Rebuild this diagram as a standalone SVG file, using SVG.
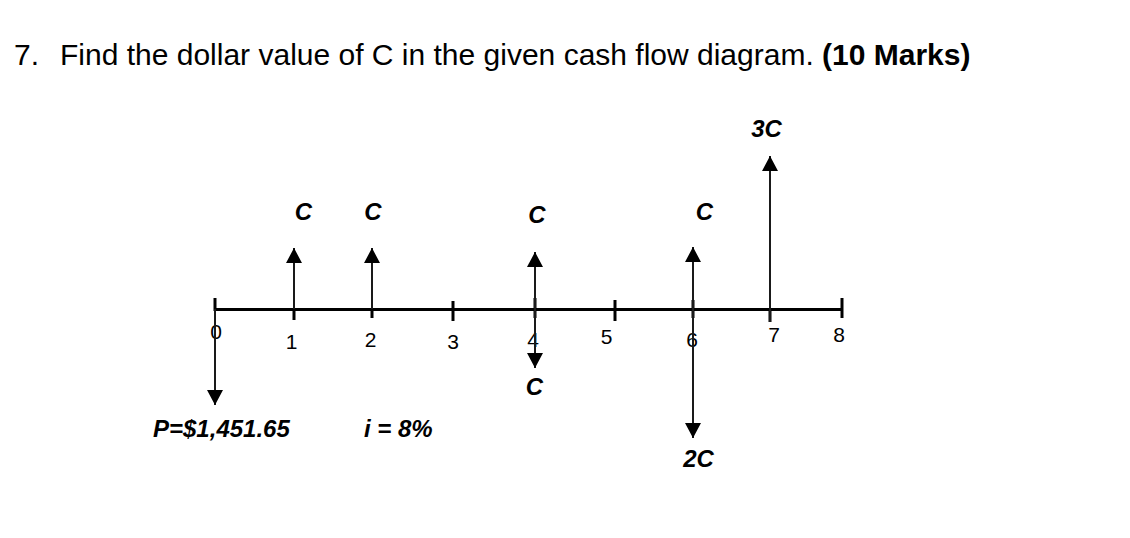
<svg xmlns="http://www.w3.org/2000/svg" width="1130" height="538" viewBox="0 0 1130 538">
<style>
.title{font-family:"Liberation Sans",Arial,sans-serif;font-size:30px;fill:#000}
.lbl{font-family:"Liberation Sans",Arial,sans-serif;font-size:24px;font-weight:bold;font-style:italic;fill:#000}
.num{font-family:"Liberation Sans",Arial,sans-serif;font-size:21px;fill:#000;text-anchor:middle}
.axis{stroke:#000;stroke-width:3;fill:none}
.tick{stroke:#000;stroke-width:3}
.flow{stroke:#1a1a1a;stroke-width:2;fill:none;marker-end:url(#ah)}
</style>
<defs>
<marker id="ah" markerUnits="userSpaceOnUse" markerWidth="15" markerHeight="16" viewBox="0 -8 15 16" refX="15" refY="0" orient="auto">
<path d="M0,-8 L15,0 L0,8 Z" fill="#000"/>
</marker>
</defs>
<rect width="1130" height="538" fill="#fff"/>
<g id="title">
<text class="title" x="14" y="65">7.</text>
<text class="title" x="60" y="65">Find the dollar value of C in the given cash flow diagram. <tspan font-weight="bold">(10 Marks)</tspan></text>
</g>
<g id="timeline">
<line class="axis" x1="215" y1="309.5" x2="842" y2="309.5"/>
<line class="tick" x1="215" y1="298" x2="215" y2="311"/>
<line class="tick" x1="294" y1="308" x2="294" y2="320"/>
<line class="tick" x1="372" y1="308" x2="372" y2="318"/>
<line class="tick" x1="453" y1="301" x2="453" y2="321"/>
<line class="tick" x1="535" y1="298" x2="535" y2="318"/>
<line class="tick" x1="615" y1="300" x2="615" y2="321"/>
<line class="tick" x1="693" y1="300" x2="693" y2="318"/>
<line class="tick" x1="770" y1="308" x2="770" y2="322"/>
<line class="tick" x1="842" y1="298" x2="842" y2="318"/>
<text class="num" x="216" y="339">0</text>
<text class="num" x="291.5" y="349">1</text>
<text class="num" x="370.5" y="347">2</text>
<text class="num" x="453" y="349">3</text>
<text class="num" x="533" y="347">4</text>
<text class="num" x="606.5" y="344">5</text>
<text class="num" x="692" y="347">6</text>
<text class="num" x="774" y="342">7</text>
<text class="num" x="839" y="342">8</text>
</g>
<g id="connectors">
<line class="flow" x1="215" y1="309" x2="215" y2="405"/>
<line class="flow" x1="294" y1="309" x2="294" y2="248"/>
<line class="flow" x1="372" y1="309" x2="372" y2="248"/>
<line class="flow" x1="535" y1="309" x2="535" y2="252"/>
<line class="flow" x1="535" y1="309" x2="535" y2="368"/>
<line class="flow" x1="693" y1="309" x2="693" y2="247"/>
<line class="flow" x1="693" y1="309" x2="693" y2="438"/>
<line class="flow" x1="770" y1="322" x2="770" y2="156"/>
</g>
<g id="node-p0"><text class="lbl" x="153" y="437">P=$1,451.65</text></g>
<g id="node-c1"><text class="lbl" x="303.5" y="220" text-anchor="middle">C</text></g>
<g id="node-c2"><text class="lbl" x="373" y="220" text-anchor="middle">C</text></g>
<g id="node-c4up"><text class="lbl" x="537" y="223" text-anchor="middle">C</text></g>
<g id="node-c4down"><text class="lbl" x="534.5" y="395" text-anchor="middle">C</text></g>
<g id="node-c6up"><text class="lbl" x="704.5" y="219.5" text-anchor="middle">C</text></g>
<g id="node-c6down"><text class="lbl" x="698.5" y="467" text-anchor="middle">2C</text></g>
<g id="node-c7"><text class="lbl" x="766.5" y="137" text-anchor="middle">3C</text></g>
<g id="node-rate"><text class="lbl" x="364" y="437">i = 8%</text></g>
</svg>
